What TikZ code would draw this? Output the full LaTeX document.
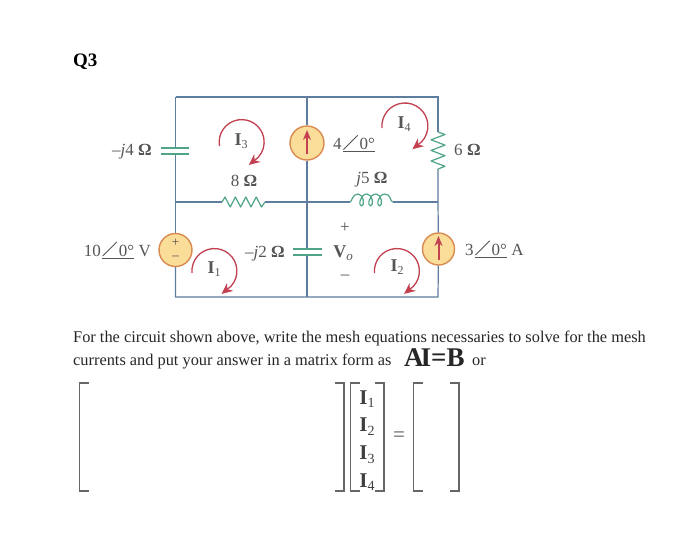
\documentclass[tikz,border=0pt]{standalone}
\usepackage{fontspec}
\setmainfont{Liberation Serif}
\usetikzlibrary{arrows.meta}
\definecolor{wirecol}{HTML}{5F7D9E}
\definecolor{compcol}{HTML}{4FA487}
\definecolor{redcol}{HTML}{C2404F}
\definecolor{srcfill}{HTML}{FBDD9A}
\definecolor{srcline}{HTML}{D98A50}
\definecolor{labcol}{HTML}{555555}
\definecolor{brcol}{HTML}{666666}
\newcommand{\phs}[1]{\kern1.5pt\underline{\rlap{\rotatebox[origin=bl]{45}{\rule{20pt}{0.8pt}}}\kern16.5pt #1}}
\newcommand{\subI}[1]{\textbf{I}\raisebox{-3pt}{\fontsize{12}{12}\selectfont #1}}
\newcommand{\subIb}[1]{\textbf{I}\raisebox{-3.5pt}{\fontsize{14}{14}\selectfont #1}}
\newcommand{\ohm}{\kern1.5pt\textbf{Ω}}
\tikzset{
 wire/.style={draw=wirecol,line width=1.2pt},
 plate/.style={draw=compcol,line width=1.2pt},
 zig/.style={draw=compcol,line width=1.2pt,line join=round},
 src/.style={circle,draw=srcline,fill=srcfill,line width=1.4pt,minimum size=#1,inner sep=0pt},
 srcarrow/.style={draw=redcol,line width=2pt,-{Stealth[length=10pt,width=8pt]}},
 mesh/.style={draw=redcol,line width=1.3pt,-{Stealth[length=11pt,width=10pt]}},
 lab/.style={text=labcol,inner sep=0pt,font=\fontsize{17}{19}\selectfont},
 body/.style={text=black!85,inner sep=0pt,anchor=base west,font=\fontsize{16.35}{18}\selectfont},
 bracket/.style={draw=brcol,line width=1.3pt},
}
\begin{document}
\begin{tikzpicture}[x=1pt,y=-1pt]
\useasboundingbox[fill=white] (0,0) rectangle (700,533);
% junctions
\coordinate (tl) at (175.5,97); \coordinate (tm) at (307,97); \coordinate (tr) at (438,97);
\coordinate (ml) at (175.5,202); \coordinate (mm) at (307,202); \coordinate (mr) at (438,202);
\coordinate (bl) at (175.5,297); \coordinate (bm) at (307,297); \coordinate (br) at (438,297);
% component terminals
\coordinate (c4a) at (175.5,148); \coordinate (c4b) at (175.5,154);
\coordinate (c2a) at (307,249); \coordinate (c2b) at (307,255);
\coordinate (r8a) at (222,202); \coordinate (r8b) at (265,202);
\coordinate (r6a) at (438,132); \coordinate (r6b) at (438,169);
\coordinate (l5a) at (350,202); \coordinate (l5b) at (393,202);
% sources
\node[src=34pt] (s4) at (307,143) {};
\node[src=32pt] (s3) at (438.5,249) {};
\node[src=33pt] (sv) at (175.5,250) {};
% wires
\draw[wire] (tl) -- (tm) -- (tr) -- (r6a);
\draw[wire] (r6b) -- (mr) -- (s3);
\draw[wire] (s3) -- (br) -- (bm) -- (bl) -- (sv);
\draw[wire] (sv) -- (ml) -- (c4b);
\draw[wire] (c4a) -- (tl);
\draw[wire] (tm) -- (s4) -- (mm) -- (c2a);
\draw[wire] (c2b) -- (bm);
\draw[wire] (ml) -- (r8a);
\draw[wire] (r8b) -- (mm) -- (l5a);
\draw[wire] (l5b) -- (mr);
% capacitors
\draw[plate] (161,148) -- (189,148) (161,154) -- (189,154);
\draw[plate] (293,249) -- (322,249) (293,255) -- (322,255);
% resistors
\draw[zig] (r8a) -- ++(3,-5) -- ++(5.2,10) -- ++(5.2,-10) -- ++(5.2,10) -- ++(5.2,-10) -- ++(5.2,10) -- ++(5.2,-10) -- ++(5.2,10) -- (r8b);
\draw[zig] (r6a) -- ++(7,2.5) -- ++(-14,5.3) -- ++(14,5.3) -- ++(-14,5.3) -- ++(14,5.3) -- ++(-14,5.3) -- ++(14,5.3) -- (r6b);
% inductor
\draw[zig] (l5a) .. controls (352,202) and (352,194) .. (358,194)
 .. controls (364,194) and (365,206) .. (361.5,206) .. controls (358,206) and (360,194) .. (367,194)
 .. controls (373,194) and (374,206) .. (370.5,206) .. controls (367,206) and (369,194) .. (376,194)
 .. controls (382,194) and (383,206) .. (379.5,206) .. controls (376,206) and (378,194) .. (385,194)
 .. controls (391,194) and (390,202) .. (l5b);
% source symbols
\draw[srcarrow] ([yshift=-11pt]s4.center) -- ([yshift=13pt]s4.center);
\draw[srcarrow] ([yshift=-11pt]s3.center) -- ([yshift=13pt]s3.center);
\node[lab,text=black!70,font=\fontsize{13}{13}\selectfont] (vplus) at (175.5,243) {+};
\node[lab,text=black!70,font=\fontsize{13}{13}\selectfont] (vminus) at (175.5,258) {–};
% mesh arrows
\draw[mesh] (219.5,146) arc (170:403:22.5) -- ++(-9.3,7.5);
\draw[mesh] (382,128) arc (175:403:23) -- ++(-9.3,7.5);
\draw[mesh] (192,273) arc (175:403:22.5) -- ++(-9.3,7.5);
\draw[mesh] (374.5,273) arc (175:403:22.5) -- ++(-9.3,7.5);
\node[lab,font=\fontsize{18}{20}\selectfont] (i3) at (241,141) {\subI{3}};
\node[lab,font=\fontsize{18}{20}\selectfont] (i4) at (404,124) {\subI{4}};
\node[lab,font=\fontsize{18}{20}\selectfont] (i1) at (214,269) {\subI{1}};
\node[lab,font=\fontsize{18}{20}\selectfont] (i2) at (397,267) {\subI{2}};
% labels
\node[lab,anchor=east] (l4) at (152,152) {–\textit{j}4\,\ohm};
\node[lab] (l8) at (244,180.5) {8\,\ohm};
\node[lab,anchor=west] (lc4) at (333,143.5) {4\phs{0°}};
\node[lab,anchor=west] (l6) at (454,150) {6\,\ohm};
\node[lab] (lj5) at (372,180) {\textit{j}5\,\ohm};
\node[lab,anchor=east] (lv) at (151,250) {10\phs{0°} V};
\node[lab,anchor=east] (l2) at (285,254) {–\textit{j}2\,\ohm};
\node[lab,anchor=west] (lc3) at (465,249) {3\phs{0°} A};
\node[lab] (vop) at (345,227.5) {+};
\node[lab,font=\fontsize{18}{20}\selectfont] (vo) at (343,253) {\textbf{V}\raisebox{-2.5pt}{\fontsize{13}{13}\selectfont\textit{o}}};
\node[lab] (vom) at (345,277) {–};
% texts
\node[inner sep=0pt,anchor=base west,font=\fontsize{19}{21}\selectfont\bfseries] (q3) at (73,66) {Q3};
\node[body] (t1) at (73,342) {For the circuit shown above, write the mesh equations necessaries to solve for the mesh};
\node[body] (t2) at (73,365) {currents and put your answer in a matrix form as};
\node[inner sep=0pt,anchor=base west,font=\fontsize{27}{29}\selectfont\bfseries,text=black!85] (t3) at (404,366) {A\kern-3pt I=B};
\node[body] (t4) at (472,365) {or};
% brackets
\draw[bracket] (89,383) -- (79.5,383) -- (79.5,491) -- (89,491);
\draw[bracket] (335,383) -- (344,383) -- (344,491) -- (335,491);
\draw[bracket] (360,383) -- (350.5,383) -- (350.5,491) -- (360,491);
\draw[bracket] (375,383) -- (384,383) -- (384,491) -- (375,491);
\draw[bracket] (423,383) -- (413.5,383) -- (413.5,491) -- (423,491);
\draw[bracket] (450,383) -- (459,383) -- (459,491) -- (450,491);
\node[lab,text=black!75,font=\fontsize{21}{23}\selectfont] (v1) at (367,399) {\subIb{1}};
\node[lab,text=black!75,font=\fontsize{21}{23}\selectfont] (v2) at (367,426.5) {\subIb{2}};
\node[lab,text=black!75,font=\fontsize{21}{23}\selectfont] (v3) at (367,454.5) {\subIb{3}};
\node[lab,text=black!75,font=\fontsize{21}{23}\selectfont] (v4) at (367,482) {\subIb{4}};
\node[lab,font=\fontsize{21}{23}\selectfont] (eq) at (399,437) {=};
\end{tikzpicture}
\end{document}
